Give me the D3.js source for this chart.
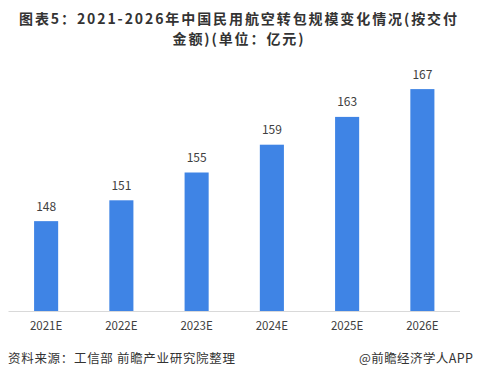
<!DOCTYPE html>
<html><head><meta charset="utf-8">
<script src="https://cdn.jsdelivr.net/npm/d3@7"></script>
<style>body{margin:0;background:#fff;}svg{display:block;}</style>
</head><body>
<script>
const categories = ["2021E","2022E","2023E","2024E","2025E","2026E"];
const values = [148,151,155,159,163,167];
const titleLines = ["图表5：2021-2026年中国民用航空转包规模变化情况(按交付","金额)(单位：亿元)"];
const sourceText = "资料来源：工信部 前瞻产业研究院整理";
const brandText = "@前瞻经济学人APP";

const W = 477, H = 381;
const font = "'Noto Sans CJK SC','Microsoft YaHei',sans-serif";
const svg = d3.select("body").append("svg").attr("width", W).attr("height", H);
svg.append("rect").attr("width", W).attr("height", H).attr("fill", "#fff");

const titleWidths = [438, 131];
svg.selectAll("text.title").data(titleLines).enter().append("text")
  .attr("class", "title")
  .attr("x", 238).attr("y", (d,i) => 23.5 + i*20.5)
  .attr("text-anchor", "middle").attr("font-family", font)
  .attr("font-size", 14).attr("font-weight", "bold").attr("fill", "#333")
  .attr("textLength", (d,i) => titleWidths[i]).attr("lengthAdjust", "spacing")
  .text(d => d);

const x = d3.scaleBand().domain(categories).range([8.5, 460]).paddingInner(0.68).paddingOuter(0.34);
const y = d3.scaleLinear().domain([135, 175]).range([311.5, 33.5]);

svg.selectAll("rect.bar").data(values).enter().append("rect")
  .attr("x", (d,i) => x(categories[i])).attr("width", x.bandwidth())
  .attr("y", d => y(d)).attr("height", d => y(135) - y(d))
  .attr("fill", "#3f84e5");

svg.selectAll("text.val").data(values).enter().append("text")
  .attr("x", (d,i) => x(categories[i]) + x.bandwidth()/2)
  .attr("y", d => y(d) - 10.5)
  .attr("text-anchor", "middle").attr("font-family", font)
  .attr("font-size", 12).attr("fill", "#404040").text(d => d);

const axis = svg.append("g").attr("transform", "translate(0,311.5)")
  .call(d3.axisBottom(x).tickSize(0).tickPadding(10.5));
axis.select(".domain").attr("stroke", "#d9d9d9").attr("d", "M8.5,0H460");
axis.selectAll("text").attr("font-family", font).attr("font-size", 11.5).attr("fill", "#404040");

svg.append("text").attr("x", 8).attr("y", 363).attr("font-family", font)
  .attr("font-size", 12.5).attr("fill", "#333")
  .attr("textLength", 227).attr("lengthAdjust", "spacing").text(sourceText);
svg.append("text").attr("x", 473).attr("y", 363).attr("text-anchor", "end").attr("font-family", font)
  .attr("font-size", 12.5).attr("fill", "#333")
  .attr("textLength", 114).attr("lengthAdjust", "spacing").text(brandText);
</script>
</body></html>
